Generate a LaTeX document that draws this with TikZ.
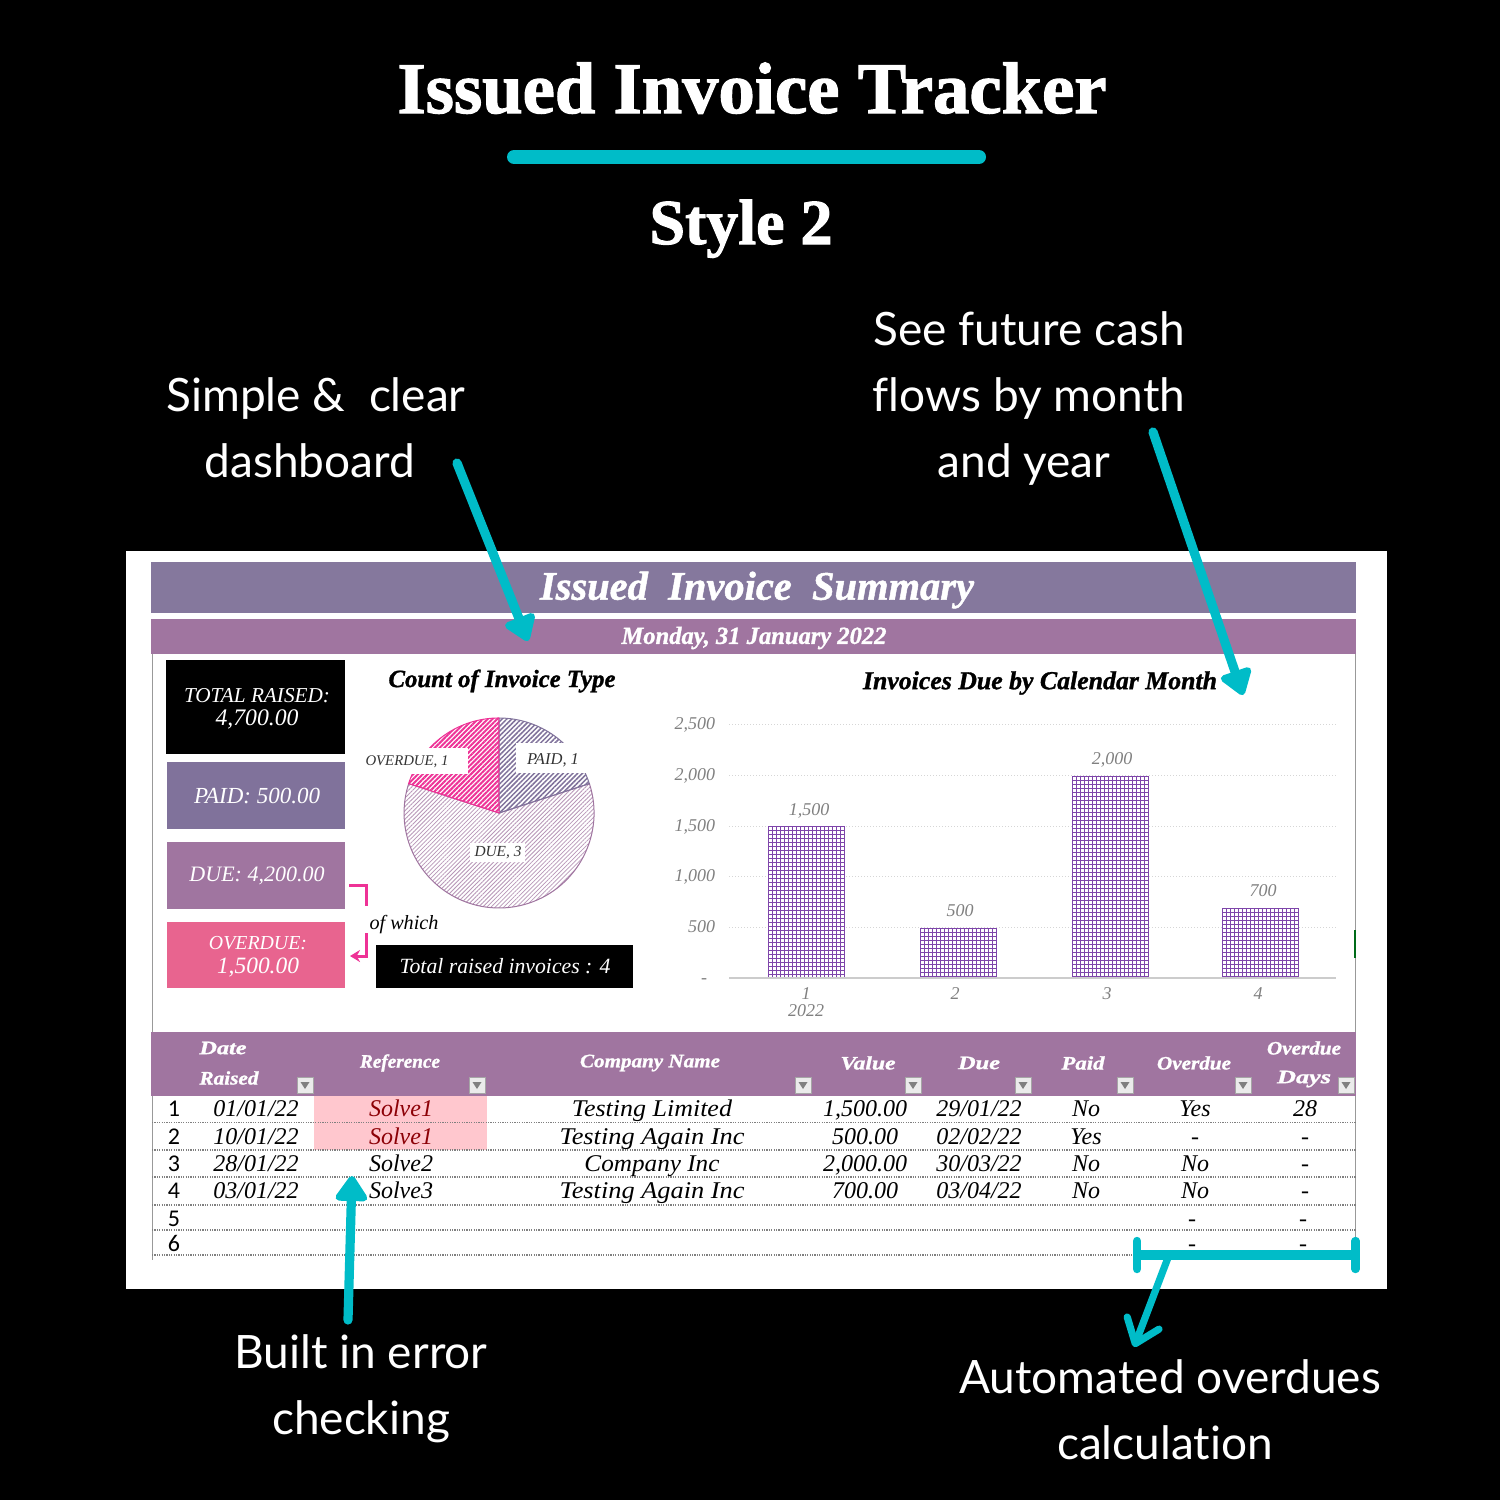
\documentclass[tikz,border=0pt]{standalone}
\usepackage{graphicx}
\usepackage{fontspec}
\setmainfont{Liberation Serif}
\newfontfamily\latof[Ligatures=NoCommon]{Lato}
\newfontfamily\rownum{Carlito}
\newfontfamily\titlef[UprightFont=* Bold,FakeBold=1.6]{Liberation Serif}
\newfontfamily\headf[UprightFont=* Bold Italic,FakeBold=1.2]{Liberation Serif}
\usetikzlibrary{arrows.meta,patterns.meta}
\definecolor{teal1}{RGB}{0,188,200}
\definecolor{band1}{RGB}{133,120,157}
\definecolor{band2}{RGB}{160,117,160}
\definecolor{boxpaid}{RGB}{128,114,155}
\definecolor{boxover}{RGB}{232,100,143}
\definecolor{pinkline}{RGB}{238,50,150}
\definecolor{cellpink}{RGB}{255,199,206}
\definecolor{cellred}{RGB}{140,0,6}
\definecolor{barpurple}{RGB}{112,48,160}
\definecolor{axisgrey}{RGB}{128,128,128}
\newlength\fitl
\newcommand\fitw[2]{\setlength\fitl{#1pt}\setlength\fitl{0.5\fitl}\resizebox{\fitl}{!}{#2}}
\newcommand\fitx[2]{\setlength\fitl{#1pt}\setlength\fitl{0.5\fitl}\resizebox{\fitl}{\height}{#2}}
\tikzset{
  x=0.5pt,y=-0.5pt,
  txt/.style={inner sep=0pt,outer sep=0pt,anchor=center},
  caption/.style={txt,anchor=base,text=white,font=\latof\fontsize{23}{23}\selectfont},
  heading/.style={txt,anchor=base,text=white,font=\titlef},
  bandtext/.style={txt,text=white,font=\headf},
  charttitle/.style={txt,text=black,font=\headf},
  boxtext/.style={txt,text=white,font=\itshape,align=center},
  celltext/.style={txt,anchor=base,text=black,font=\itshape\fontsize{12}{12}\selectfont},
  numtext/.style={txt,anchor=base,text=black,font=\rownum\fontsize{12}{12}\selectfont},
  hdrtext/.style={txt,text=white,font=\headf\fontsize{9.5}{9.5}\selectfont},
  axistext/.style={txt,anchor=base,text=axisgrey,font=\itshape\fontsize{9}{9}\selectfont},
  pielabel/.style={txt,text=black!80,font=\itshape},
  tealarrow/.style={draw=teal1,line width=4.6pt,line cap=round,line join=round,-{Triangle[width=18pt,length=14pt,round]}},
  tealbar/.style={draw=teal1,line cap=round},
  filterbtn/.style={draw=black!35,fill=black!8,line width=.4pt,minimum size=8pt,inner sep=0pt,outer sep=0pt},
  rowline/.style={draw=black!50,line width=.55pt,dash pattern=on .6pt off .6pt},
  gridline/.style={draw=black!16,line width=.5pt,densely dotted},
  frameline/.style={draw=black!40,line width=.5pt},
  hatchline/.style={draw=barpurple!90,line width=.5pt},
}
\newcommand\filt[2]{%
  \node[filterbtn] (#1) at (#2,1085) {};
  \fill[black!50] ({#2-4.5},1082) -- ({#2+4.5},1082) -- (#2,1089) -- cycle;}
\newcommand\trow[9]{%
  \node[numtext] (n#1) at (174,{#2+8}) {#1};
  \node[celltext] (d#1) at (256,{#2+8}) {#3};
  \node[celltext] (r#1) at (401,{#2+8}) {#4};
  \node[celltext] (c#1) at (652,{#2+8}) {#5};
  \node[celltext] (v#1) at (865,{#2+8}) {#6};
  \node[celltext] (u#1) at (979,{#2+8}) {#7};
  \node[celltext] (p#1) at (1086,{#2+8}) {#8};
  \node[celltext] (o#1) at (1195,{#2+8}) {#9};}
\newcommand\gridbar[3]{%
  \fill[white] (#1,#3) rectangle (#2,978);
  \foreach \hx in {0,4,...,76}{
    \pgfmathsetmacro\vx{#1+\hx}
    \pgfmathparse{\vx<=#2 ? 1 : 0}
    \ifnum\pgfmathresult=1 \draw[hatchline] (\vx,#3) -- (\vx,978);\fi}
  \foreach \hy in {0,4,...,204}{
    \pgfmathsetmacro\vy{#3+\hy}
    \pgfmathparse{\vy<=978 ? 1 : 0}
    \ifnum\pgfmathresult=1 \draw[hatchline] (#1,\vy) -- (#2,\vy);\fi}}
\begin{document}
\begin{tikzpicture}
\useasboundingbox (0,0) rectangle (1500,1500);
\fill[black] (0,0) rectangle (1500,1500);
% titles
\node[heading] (title) at (752,113) {\fitw{709}{Issued Invoice Tracker}};
\coordinate (rulea) at (514,157);
\coordinate (ruleb) at (979,157);
\draw[teal1,line width=7pt,line cap=round] (rulea) -- (ruleb);
\node[heading] (style) at (741,244) {\fitw{183}{Style 2}};
% captions top
\node[caption] (c1a) at (316,411) {Simple \&\ \ clear};
\node[caption] (c1b) at (310,477) {dashboard};
\node[caption] (c2a) at (1029,345) {See future cash};
\node[caption] (c2b) at (1029,411) {flows by month};
\node[caption] (c2c) at (1024,477) {and year};
% sheet
\fill[white] (126,551) rectangle (1387,1289);
\fill[band1] (151,562) rectangle (1356,613);
\fill[band2] (151,619) rectangle (1356,654);
\draw[frameline] (152,654) -- (152,1260);
\draw[frameline] (1355,654) -- (1355,1260);
\fill[green!40!black!80!teal] (1353.5,930) rectangle (1355.5,958);
\node[bandtext] (sumtitle) at (757,590) {\fitw{434}{Issued\ \ Invoice\ \ Summary}};
\node[bandtext] (sumdate) at (754,638) {\fitw{265}{Monday, 31 January 2022}};
% KPI boxes
\fill[black] (166,660) rectangle (345,754);
\fill[boxpaid] (167,762) rectangle (345,829);
\fill[band2] (167,842) rectangle (345,909);
\fill[boxover] (167,922) rectangle (345,988);
\fill[black] (376,945) rectangle (633,988);
\node[boxtext] (k1a) at (257,696) {\fitw{146}{TOTAL RAISED:}};
\node[boxtext] (k1b) at (257,719) {\fitw{83}{4,700.00}};
\node[boxtext] (k2) at (257,796) {\fitw{126}{PAID: 500.00}};
\node[boxtext] (k3) at (257,876) {\fitw{135}{DUE: 4,200.00}};
\node[boxtext] (k4a) at (258,943) {\fitw{98}{OVERDUE:}};
\node[boxtext] (k4b) at (258,967) {\fitw{82}{1,500.00}};
\node[boxtext] (k5) at (505,966) {\fitw{211}{Total raised invoices : 4}};
% bracket
\node[txt,font=\itshape] (ofwhich) at (404,925) {\fitw{69}{of which}};
\coordinate (b1) at (349,885);
\coordinate (b2) at (366,885);
\coordinate (b3) at (366,906);
\coordinate (b4) at (366,933);
\coordinate (b5) at (366,956);
\coordinate (b6) at (350,956);
\draw[pinkline,line width=1.5pt] (b1) -- (b2) -- (b3);
\draw[pinkline,line width=1.5pt,-{Stealth[length=5pt,width=6pt]}] (b4) -- (b5) -- (b6);
% pie
\node[charttitle] (pietitle) at (502,681) {\fitw{227}{Count of Invoice Type}};
\fill[white] (499,813) circle[radius=95];
\path[pattern={Lines[angle=45,distance=1.5pt,line width=.4pt]},pattern color=band2!75,draw=band2,line width=.5pt]
  (499,813) -- (589.4,783.6) arc[start angle=-18,end angle=198,radius=95] -- cycle;
\path[pattern={Lines[angle=45,distance=1.7pt,line width=.75pt]},pattern color=boxpaid,draw=boxpaid,line width=.5pt]
  (499,813) -- (499,718) arc[start angle=-90,end angle=-18,radius=95] -- cycle;
\path[pattern={Lines[angle=45,distance=1.7pt,line width=1pt]},pattern color=pinkline,draw=pinkline,line width=.5pt]
  (499,813) -- (408.6,783.6) arc[start angle=198,end angle=270,radius=95] -- cycle;
\fill[white] (360,748) rectangle (468,774);
\fill[white] (516,743) rectangle (587,773);
\fill[white] (470,843) rectangle (525,862);
\node[pielabel] (p1) at (407,762) {\fitw{83}{OVERDUE, 1}};
\node[pielabel] (p2) at (553,760) {\fitw{52}{PAID, 1}};
\node[pielabel] (p3) at (498,853) {\fitw{47}{DUE, 3}};
% bar chart
\node[charttitle] (bartitle) at (1040,683) {\fitw{354}{Invoices Due by Calendar Month}};
\foreach \yy/\lab/\nm in {724/{2,500}/a,775/{2,000}/b,826/{1,500}/c,876/{1,000}/d,927/500/e}{
  \draw[gridline] (729,\yy) -- (1336,\yy);
  \node[axistext,anchor=base east] (ax\nm) at (715,{\yy+5}) {\lab};
}
\node[axistext] (axf) at (704,983) {-};
\gridbar{768}{844}{826}
\gridbar{920}{996}{928}
\gridbar{1072}{1148}{776}
\gridbar{1222}{1298}{908}
\draw[draw=black!20,line width=.6pt] (729,978) -- (1336,978);
\node[axistext] (vl1) at (809,815) {1,500};
\node[axistext] (vl2) at (960,916) {500};
\node[axistext] (vl3) at (1112,764) {2,000};
\node[axistext] (vl4) at (1263,896) {700};
\node[axistext] (cl1) at (806,999) {1};
\node[axistext] (cly) at (806,1016) {2022};
\node[axistext] (cl2) at (955,999) {2};
\node[axistext] (cl3) at (1107,999) {3};
\node[axistext] (cl4) at (1258,999) {4};
% table
\fill[band2] (151,1032) rectangle (1356,1096);
\fill[cellpink] (314,1096) rectangle (487,1150);
\node[hdrtext] (h1) at (223,1048) {\fitx{47}{Date}};
\node[hdrtext] (h2) at (229,1078) {\fitx{59}{Raised}};
\node[hdrtext] (h3) at (400,1063) {\fitx{80}{Reference}};
\node[hdrtext] (h4) at (650,1063) {\fitx{140}{Company Name}};
\node[hdrtext] (h5) at (868,1063) {\fitx{55}{Value}};
\node[hdrtext] (h6) at (979,1063) {\fitx{42}{Due}};
\node[hdrtext] (h7) at (1083,1063) {\fitx{43}{Paid}};
\node[hdrtext] (h8) at (1194,1063) {\fitx{74}{Overdue}};
\node[hdrtext] (h9) at (1304,1048) {\fitx{74}{Overdue}};
\node[hdrtext] (h10) at (1304,1079) {\fitx{54}{Days}};
\filt{f1}{305}\filt{f2}{477}\filt{f3}{803}\filt{f4}{913}\filt{f5}{1023}\filt{f6}{1125}\filt{f7}{1243}\filt{f8}{1346}
\foreach \yy in {1122.5,1150,1177,1205,1230,1255}{\draw[rowline] (152,\yy) -- (1356,\yy);}
\trow{1}{1108}{01/01/22}{\textcolor{cellred}{Solve1}}{\fitx{160}{Testing Limited}}{1,500.00}{29/01/22}{No}{Yes}
\trow{2}{1136}{10/01/22}{\textcolor{cellred}{Solve1}}{\fitx{185}{Testing Again Inc}}{500.00}{02/02/22}{Yes}{-}
\trow{3}{1163}{28/01/22}{Solve2}{\fitx{135}{Company Inc}}{2,000.00}{30/03/22}{No}{No}
\trow{4}{1190}{03/01/22}{Solve3}{\fitx{185}{Testing Again Inc}}{700.00}{03/04/22}{No}{No}
\node[numtext] (n5) at (174,1226) {5};
\node[numtext] (n6) at (174,1251) {6};
\node[celltext] (dd1) at (1305,1116) {28};
\node[celltext] (dd2) at (1305,1144) {-};
\node[celltext] (dd3) at (1305,1171) {-};
\node[celltext] (dd4) at (1305,1198) {-};
\node[celltext] (o5) at (1192,1226) {-};
\node[celltext] (dd5) at (1303,1226) {-};
\node[celltext] (o6) at (1192,1251) {-};
\node[celltext] (dd6) at (1303,1251) {-};
% captions bottom
\node[caption] (c3a) at (361,1368) {Built in error};
\node[caption] (c3b) at (361,1434) {checking};
\node[caption] (c4a) at (1170,1393) {Automated overdues};
\node[caption] (c4b) at (1165,1459) {calculation};
% arrows
\coordinate (a1s) at (457,463);
\coordinate (a1e) at (528,641);
\coordinate (a2s) at (1153,432);
\coordinate (a2e) at (1243,695);
\coordinate (a3s) at (348,1320);
\coordinate (a3e) at (352,1176);
\coordinate (a4s) at (1169,1255);
\coordinate (a4e) at (1134,1347);
\coordinate (brl) at (1137,1255);
\coordinate (brr) at (1355,1255);
\draw[tealarrow] (a1s) -- (a1e);
\draw[tealarrow] (a2s) -- (a2e);
\draw[tealarrow] (a3s) -- (a3e);
\draw[tealbar,line width=3.6pt,-{Straight Barb[round,length=11pt,width=17pt]}] (a4s) -- (a4e);
\draw[tealbar,line width=5pt,line cap=butt] (brl) -- (brr);
\draw[tealbar,line width=4.2pt] (1137,1241) -- (1137,1269);
\draw[tealbar,line width=4.2pt] (1355.5,1241) -- (1355.5,1269);
\end{tikzpicture}
\end{document}
